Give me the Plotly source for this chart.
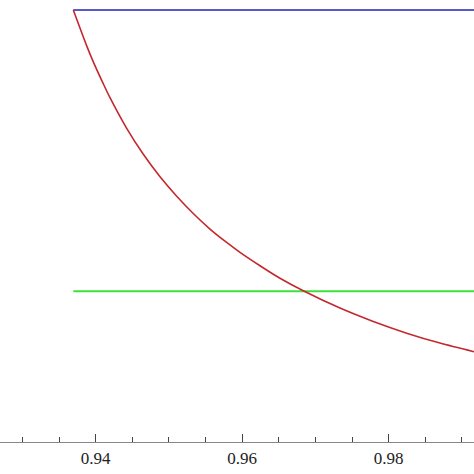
import plotly.graph_objects as go

# values (y in arbitrary units, axis line = 0, blue level = 1)
x_start = 0.93694
x_end = 0.9917

curve_x = [0.93694, 0.93877, 0.93967, 0.94104, 0.94195, 0.94423, 0.94650, 0.94878,
           0.95106, 0.95332, 0.95560, 0.95788, 0.95970, 0.96243, 0.96516, 0.96834,
           0.97335, 0.97790, 0.98246, 0.98700, 0.99165]
curve_y = [1.000, 0.917, 0.880, 0.829, 0.797, 0.726, 0.666, 0.614,
           0.569, 0.529, 0.493, 0.462, 0.439, 0.408, 0.379, 0.350,
           0.310, 0.279, 0.252, 0.229, 0.209]

upper_level = 1.0
lower_level = 0.349

tick_vals = [0.94, 0.96, 0.98]
tick_text = ["0.94", "0.96", "0.98"]

fig = go.Figure()
fig.add_trace(go.Scatter(x=[x_start, x_end], y=[upper_level, upper_level], mode="lines",
                         line=dict(color="#5c58c4", width=1.8), hoverinfo="skip"))
fig.add_trace(go.Scatter(x=[x_start, x_end], y=[lower_level, lower_level], mode="lines",
                         line=dict(color="#3ee03e", width=1.8), hoverinfo="skip"))
fig.add_trace(go.Scatter(x=curve_x, y=curve_y, mode="lines", line_shape="spline",
                         line=dict(color="#c4282f", width=1.6, smoothing=0.8), hoverinfo="skip"))

fig.update_layout(
    width=474, height=474,
    margin=dict(l=0, r=0, t=0, b=32),
    paper_bgcolor="white", plot_bgcolor="white",
    showlegend=False,
    font=dict(family="Liberation Serif, Times New Roman, serif", size=17, color="#222"),
)
fig.update_xaxes(
    range=[0.92693, 0.99165],
    tickmode="array", tickvals=tick_vals, ticktext=tick_text,
    ticks="inside", ticklen=8, tickwidth=1, tickcolor="#444",
    minor=dict(dtick=0.005, tick0=0.93, ticks="inside", ticklen=5, tickwidth=1, tickcolor="#444"),
    showline=True, linecolor="#888", linewidth=1.2,
    showgrid=False, zeroline=False,
)
fig.update_yaxes(range=[0, 1.0232], visible=False, showgrid=False, zeroline=False)

# drop the browser's default page margin so the figure sits at the window corner
fig.write_html("out.html", config={"displayModeBar": False},
               post_script="document.body.style.margin='0px';")
